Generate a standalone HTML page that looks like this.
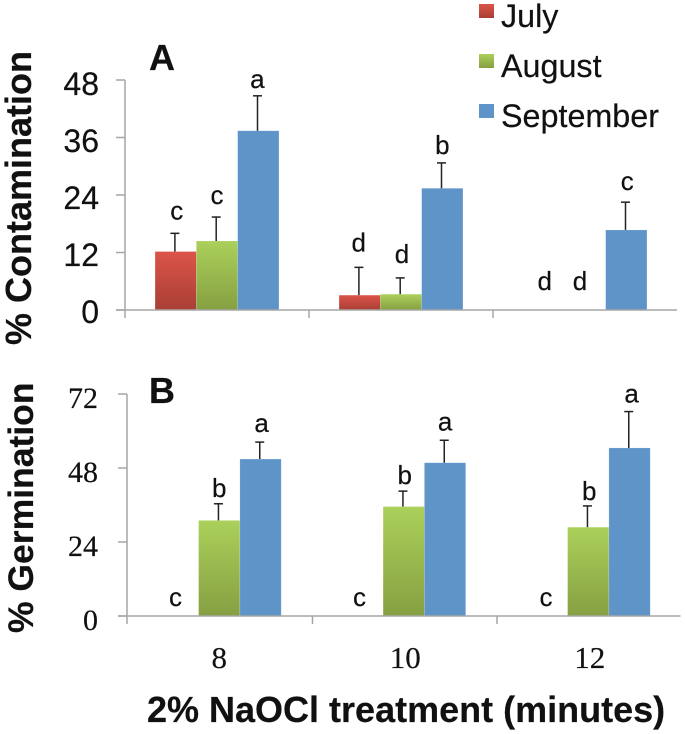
<!DOCTYPE html>
<html>
<head>
<meta charset="utf-8">
<title>Contamination and germination by NaOCl treatment</title>
<style>
html,body{margin:0;padding:0;background:#fff;width:685px;height:734px;overflow:hidden}
svg{display:block;filter:blur(0.35px)}
text{fill:#111;stroke:#111;stroke-width:0.2px}
.sans{font-family:"Liberation Sans",sans-serif}
.serif{font-family:"Liberation Serif",serif}
</style>
</head>
<body>
<svg id="chart" xmlns="http://www.w3.org/2000/svg" width="685" height="734" viewBox="0 0 685 734">
<defs>
<linearGradient id="grad-july" x1="0" y1="0" x2="0" y2="1"><stop offset="0" stop-color="#dc5449"/><stop offset="1" stop-color="#a93f35"/></linearGradient>
<linearGradient id="grad-august" x1="0" y1="0" x2="0" y2="1"><stop offset="0" stop-color="#abd05a"/><stop offset="1" stop-color="#86a042"/></linearGradient>
</defs>
<g>
<rect x="479" y="4" width="15" height="14" fill="url(#grad-july)"/>
<text class="sans" x="501" y="27" font-size="32.3">July</text>
<rect x="479" y="54" width="15" height="14" fill="url(#grad-august)"/>
<text class="sans" x="501" y="77" font-size="32.3">August</text>
<rect x="479" y="104" width="15" height="14" fill="#5f94c9"/>
<text class="sans" x="501" y="127" font-size="32.3">September</text>
</g>
<text class="sans" x="149" y="70" font-size="36" font-weight="bold">A</text>
<text class="sans" x="149" y="403" font-size="36" font-weight="bold">B</text>
<text class="sans" transform="translate(31,345) rotate(-90)" font-size="36" font-weight="bold">% Contamination</text>
<text class="sans" transform="translate(33,633) rotate(-90)" font-size="35.5" font-weight="bold">% Germination</text>
<text class="sans" x="147" y="722" font-size="36" font-weight="bold">2% NaOCl treatment (minutes)</text>
</svg>
<script>
const categories = ['8', '10', '12'];
const seriesNames = ['July', 'August', 'September'];

const ticksA = [0, 12, 24, 36, 48];
const julyA = [12.2, 3.1, 0];
const augustA = [14.4, 3.3, 0];
const septemberA = [37.4, 25.4, 16.7];
const julyErrA = [16, 8.9, 0];
const augustErrA = [19.4, 6.7, 0];
const septemberErrA = [44.7, 30.7, 22.5];
const julyLettersA = ['c', 'd', 'd'];
const augustLettersA = ['c', 'd', 'd'];
const septemberLettersA = ['a', 'b', 'c'];

const ticksB = [0, 24, 48, 72];
const julyB = [0, 0, 0];
const augustB = [31, 35.5, 28.8];
const septemberB = [50.9, 49.7, 54.5];
const julyErrB = [0, 0, 0];
const augustErrB = [36.4, 40.5, 35.7];
const septemberErrB = [56.4, 57, 66.3];
const julyLettersB = ['c', 'c', 'c'];
const augustLettersB = ['b', 'b', 'b'];
const septemberLettersB = ['a', 'a', 'a'];

const NS = 'http://www.w3.org/2000/svg';
const svg = document.getElementById('chart');
const BAR_W = 41.3;
const fills = ['url(#grad-july)', 'url(#grad-august)', '#5f94c9'];

function make(tag, attrs, parent) {
  const el = document.createElementNS(NS, tag);
  for (const k in attrs) el.setAttribute(k, attrs[k]);
  parent.appendChild(el);
  return el;
}

function drawPanel(p) {
  const g = make('g', {}, svg);
  
  
  const y = v => p.y0 - (v / p.max) * (p.y0 - p.yTop);
  const cx = i => p.x0 + p.groupW * (i + 0.5);

  p.series.forEach((vals, s) => {
    vals.forEach((v, i) => {
      const x = cx(i) + (s - 1) * BAR_W;
      if (v > 0) {
        const bar = make('rect', {
          x: x - BAR_W / 2, y: y(v), width: BAR_W, height: p.y0 - y(v),
          fill: fills[s], stroke: 'rgba(255,255,255,0.25)', 'stroke-width': 0.6
        }, g);
        
        
      }
      const e = p.errs[s][i];
      if (e > 0) {
        const ex = x - 0.8;
        const stem = make('line', {x1: ex, x2: ex, y1: y(v), y2: y(e), stroke: '#222', 'stroke-width': 1.5}, g);
        
        
        const cap = make('line', {x1: ex - 4.5, x2: ex + 4.5, y1: y(e), y2: y(e), stroke: '#222', 'stroke-width': 1.5}, g);
        
        
      }
      const top = e > 0 ? e : v;
      const label = make('text', {
        x: x + p.nudgeX[s][i], y: y(top) - p.gap[s][i], 'font-size': 26,
        'text-anchor': 'middle', class: 'sans'
      }, g);
      label.textContent = p.letters[s][i];
      
      
    });
  });

  const axisStyle = {stroke: '#a6a6a6', 'stroke-width': 1.5};
  const yAxis = make('line', Object.assign({x1: p.x0, x2: p.x0, y1: p.yTop, y2: p.y0 + 8}, axisStyle), g);
  
  
  const xAxis = make('line', Object.assign({x1: p.x0 - 9, x2: p.x0 + p.groupW * categories.length, y1: p.y0, y2: p.y0}, axisStyle), g);
  
  

  p.ticks.forEach(t => {
    const tick = make('line', Object.assign({x1: p.x0 - 9, x2: p.x0, y1: y(t), y2: y(t)}, axisStyle), g);
    
    
    const lab = make('text', {
      x: p.tickRight, y: y(t) + p.tickDy(t), 'font-size': p.tickSize,
      'text-anchor': 'end', class: p.tickClass
    }, g);
    lab.textContent = t;
    
    
  });

  categories.forEach((c, i) => {
    if (i > 0) {
      const xt = p.x0 + p.groupW * i + p.tickShift;
      const tick = make('line', Object.assign({x1: xt, x2: xt, y1: p.y0, y2: p.y0 + 8}, axisStyle), g);
      
      
    }
    if (p.showCats) {
      const lab = make('text', {x: cx(i) + (i === 0 ? 0 : 1.5), y: 668, 'font-size': 31, 'text-anchor': 'middle', class: 'serif'}, g);
      lab.textContent = c;
      
      
    }
  });
}

drawPanel({
  name: 'panel-a-contamination', x0: 125, groupW: 184, y0: 310, yTop: 80, max: 48,
  ticks: ticksA, tickRight: 99, tickSize: 32, tickClass: 'sans', showCats: false, tickShift: 0,
  tickDy: t => 13 + t / 24,
  series: [julyA, augustA, septemberA],
  errs: [julyErrA, augustErrA, septemberErrA],
  letters: [julyLettersA, augustLettersA, septemberLettersA],
  gap: [[14, 16, 20], [13, 15, 20], [8, 9, 12]],
  nudgeX: [[1, -1, 1], [0, 1, -5], [-1, 0, 1]]
});

drawPanel({
  name: 'panel-b-germination', x0: 127, groupW: 184.5, y0: 616, yTop: 394, max: 72,
  ticks: ticksB, tickRight: 98, tickSize: 30, tickClass: 'serif', showCats: true, tickShift: 1,
  tickDy: t => 14,
  series: [julyB, augustB, septemberB],
  errs: [julyErrB, augustErrB, septemberErrB],
  letters: [julyLettersB, augustLettersB, septemberLettersB],
  gap: [[10, 10, 10], [7, 7, 6], [10, 10, 9]],
  nudgeX: [[-2.5, -3, -1], [0, 1, 1], [1, 0, 2]]
});
</script>
</body>
</html>
